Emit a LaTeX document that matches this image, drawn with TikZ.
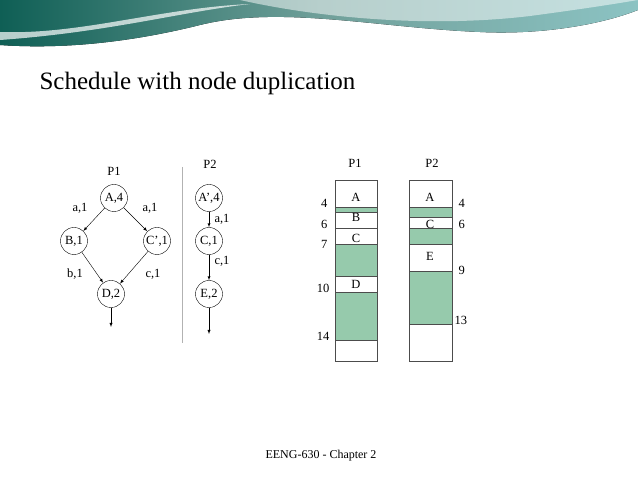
\documentclass[tikz,border=0pt]{standalone}
\usepackage{fontspec}
\setmainfont{Liberation Serif}
\definecolor{slot}{RGB}{150,202,172}
\definecolor{teal1}{RGB}{15,95,85}
\definecolor{teal2}{RGB}{140,195,195}
\begin{document}
\begin{tikzpicture}[x=1pt,y=-1pt,
  task/.style={circle,draw,minimum size=27pt,inner sep=0pt,font=\fontsize{12.5}{12.5}\selectfont},
  lbl/.style={font=\fontsize{12.5}{12.5}\selectfont},
  edge/.style={draw,-latex,thin},
  idle/.style={fill=slot,draw=black!70}]
\useasboundingbox (0,0) rectangle (638,478);
% banner
\fill[left color=teal1, right color=teal2, middle color=teal1!60!white]
  (0,0) -- (638,0) -- (638,10) .. controls (600,25) and (540,35) .. (480,32)
  .. controls (380,28) and (280,5) .. (200,25) .. controls (140,40) and (70,50) .. (0,45) -- cycle;
\fill[white,opacity=0.7] (0,32) .. controls (80,35) and (160,8) .. (250,4) .. controls (180,12) and (110,32) .. (0,40) -- cycle;
\fill[white,opacity=0.5] (240,0) .. controls (320,18) and (430,28) .. (530,16) .. controls (590,8) and (620,3) .. (638,0) -- cycle;
% title
\node[anchor=west,font=\fontsize{25}{25}\selectfont] (title) at (36,83) {Schedule with node duplication};
% graph
\node[lbl] (p1g) at (114,171) {P1};
\node[lbl] (p2g) at (210,164) {P2};
\node[task] (A) at (114,198) {A,4};
\node[task] (B) at (74,241) {B,1};
\node[task] (Cp) at (157,241) {C',1};
\node[task] (D) at (111,294) {D,2};
\node[task] (Ap) at (209,198) {A',4};
\node[task] (C) at (209,241) {C,1};
\node[task] (E) at (209,294) {E,2};
\coordinate (Dout) at (111,327);
\coordinate (Eout) at (209,334);
\draw[edge] (A) -- (B);
\draw[edge] (A) -- (Cp);
\draw[edge] (B) -- (D);
\draw[edge] (Cp) -- (D);
\draw[edge] (D) -- (Dout);
\draw[edge] (Ap) -- (C);
\draw[edge] (C) -- (E);
\draw[edge] (E) -- (Eout);
\node[lbl] (l1) at (80,208) {a,1};
\node[lbl] (l2) at (150,208) {a,1};
\node[lbl] (l3) at (75,274) {b,1};
\node[lbl] (l4) at (153,274) {c,1};
\node[lbl] (l5) at (222,219) {a,1};
\node[lbl] (l6) at (222,261) {c,1};
\coordinate (s1) at (182,167);
\coordinate (s2) at (182,343);
\draw[black!30] (s1) -- (s2);
% Gantt P1
\node[lbl] (hp1) at (355,163) {P1};
\node[lbl] (hp2) at (432,163) {P2};
\draw[black!70] (335,180) rectangle (377,361);
\draw[idle] (335,207) rectangle (377,212);
\draw[idle] (335,244) rectangle (377,276);
\draw[idle] (335,292) rectangle (377,340);
\draw[black!70] (335,228) -- (377,228);
\node[lbl] (ta) at (356,197) {A};
\node[lbl] (tb) at (356,217) {B};
\node[lbl] (tc) at (356,238) {C};
\node[lbl] (td) at (356,284) {D};
\node[lbl,anchor=east] (n4) at (331,203) {4};
\node[lbl,anchor=east] (n6) at (331,224) {6};
\node[lbl,anchor=east] (n7) at (331,244) {7};
\node[lbl,anchor=east] (n10) at (333,288) {10};
\node[lbl,anchor=east] (n14) at (333,336) {14};
% Gantt P2
\draw[black!70] (409,180) rectangle (452,361);
\draw[idle] (409,207) rectangle (452,217);
\draw[idle] (409,228) rectangle (452,244);
\draw[idle] (409,271) rectangle (452,324);
\node[lbl] (ua) at (430,197) {A};
\node[lbl] (uc) at (430,224) {C};
\node[lbl] (ue) at (430,256) {E};
\node[lbl,anchor=west] (m4) at (455,203) {4};
\node[lbl,anchor=west] (m6) at (455,224) {6};
\node[lbl,anchor=west] (m9) at (455,270) {9};
\node[lbl,anchor=west] (m13) at (451,320) {13};
% footer
\node[font=\fontsize{12}{12}\selectfont] (foot) at (321,456) {EENG-630 - Chapter 2};
\end{tikzpicture}
\end{document}
